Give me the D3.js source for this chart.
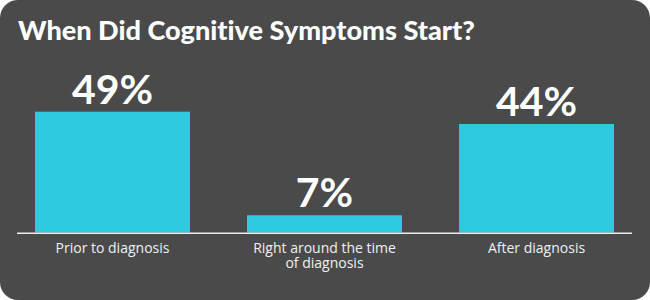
<!DOCTYPE html>
<html>
<head>
<meta charset="utf-8">
<script src="https://cdn.jsdelivr.net/npm/d3@7"></script>
<style>
  html, body { margin: 0; padding: 0; background: #fff; }
  svg { display: block; }
  text { font-variant-ligatures: none; }
</style>
</head>
<body>
<script>
const categories = ["Prior to diagnosis", "Right around the time|of diagnosis", "After diagnosis"]
const values = [49, 7, 44]
const title = "When Did Cognitive Symptoms Start?"

const width = 650
const height = 300

const svg = d3.select("body").append("svg")
    .attr("width", width)
    .attr("height", height)

svg.append("rect")
    .attr("width", width)
    .attr("height", height)
    .attr("rx", 18)
    .attr("fill", "#4a4a4a")

const x = d3.scaleBand()
    .domain(categories)
    .range([35, 614])
    .paddingInner(0.269)
    .paddingOuter(0)

const y = d3.scaleLinear()
    .domain([0, 49])
    .range([232.5, 111.7])

// title, squeezed to the width it has in the picture
const t = svg.append("text")
    .attr("x", 18)
    .attr("y", 39.5)
    .attr("fill", "#fff")
    .style("font-family", "Lato")
    .style("font-weight", "900")
    .style("font-size", "21px")
    .text(title)
const tw = t.node().getComputedTextLength()
t.style("font-size", (21 * 457 / tw) + "px")

svg.append("g")
    .selectAll("rect")
    .data(values)
    .enter().append("rect")
    .attr("x", function (d, i) { return x(categories[i]) })
    .attr("y", function (d) { return y(d) })
    .attr("width", x.bandwidth())
    .attr("height", function (d) { return y(0) - y(d) })
    .attr("fill", "#2ecbe0")

svg.append("g")
    .selectAll("text")
    .data(values)
    .enter().append("text")
    .attr("x", function (d, i) { return x(categories[i]) + x.bandwidth() / 2 })
    .attr("y", function (d) { return y(d) - 8 })
    .attr("text-anchor", "middle")
    .attr("fill", "#fff")
    .style("font-family", "Lato")
    .style("font-weight", "bold")
    .style("font-size", "41px")
    .text(function (d) { return d + "%" })

// baseline
svg.append("line")
    .attr("x1", 17)
    .attr("x2", 632)
    .attr("y1", 233.3)
    .attr("y2", 233.3)
    .attr("stroke", "#ececec")
    .attr("stroke-width", 1.6)

const axis = svg.append("g")
    .attr("transform", "translate(0," + 233 + ")")
    .call(d3.axisBottom(x).tickSize(0).tickFormat(""))

axis.select(".domain").remove()

axis.selectAll(".tick text")
    .attr("fill", "#f0f0f0")
    .style("font-family", "'Open Sans'")
    .style("font-size", "14px")
    .each(function (d) {
        const lines = d.split("|")
        const el = d3.select(this).text(null).attr("y", 0).attr("dy", null)
        lines.forEach(function (l, i) {
            el.append("tspan")
                .attr("x", 0)
                .attr("y", 19.5 + i * 15)
                .text(l)
        })
    })
</script>
</body>
</html>
